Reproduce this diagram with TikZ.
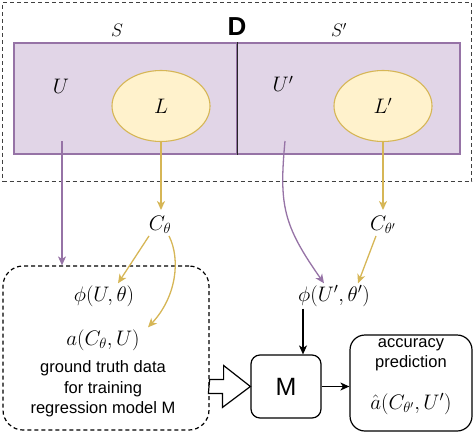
\documentclass[tikz,border=0pt]{standalone}
\usepackage{fix-cm}
\usepackage{amsmath}
\usepackage{fontspec}
\setsansfont{Liberation Sans}
\usetikzlibrary{arrows.meta,shapes.geometric,calc,positioning}
\definecolor{lilac}{HTML}{E1D5E7}
\definecolor{lilacline}{HTML}{9673A6}
\definecolor{cream}{HTML}{FFF2CC}
\definecolor{creamline}{HTML}{D6B656}

\begin{document}
\begin{tikzpicture}
    [x=1pt, y=-1pt, >={Stealth[length=9pt,width=8pt,inset=2.5pt]},
    set/.style={rectangle, draw=lilacline, fill=lilac, line width=1.1pt,
    minimum width=223pt, minimum height=111pt},
    sub/.style={ellipse, draw=creamline, fill=cream, line width=1.1pt,
    minimum width=98pt, minimum height=71pt, inner sep=0pt},
    maths/.style={font=\fontsize{21}{24}\selectfont, inner sep=2pt},
    words/.style={font=\fontsize{16.5}{20.5}\selectfont\sffamily, align=center, inner sep=1pt},
    block/.style={draw, rounded corners=9pt, line width=1.2pt},
    dbox/.style={draw, dash pattern=on 4pt off 3pt, line width=1.2pt},
    flow/.style={->, line width=1.3pt},
    uflow/.style={flow, draw=lilacline},
    lflow/.style={flow, draw=creamline}]

  % data set D with the two parts S and S'
  \node[dbox, draw=black!75, minimum width=469pt, minimum height=179pt] (Dbox) at (237,92) {};
  \node[font=\fontsize{26}{30}\selectfont\sffamily\bfseries] (Dlabel) at (237,27) {D};
  \node[set] (Sset) at (125.5,98.5) {};
  \node[set] (Spset) at (348.5,98.5) {};
  \draw[line width=1.3pt, black!85] (Sset.north east) -- (Sset.south east);
  \node[maths, font=\fontsize{18}{22}\selectfont] (Slabel) at (117,30) {$S$};
  \node[maths, font=\fontsize{18}{22}\selectfont] (Splabel) at (339,30) {$S'$};

  \node[maths] (U) at (61,86) {$U$};
  \node[maths] (Up) at (283,84) {$U'$};
  \coordinate (Ufoot) at (62,141);
  \coordinate (Upfoot) at (285,141);
  \node[sub, maths] (L) at (161,106) {$L$};
  \node[sub, maths] (Lp) at (383,106) {$L'$};

  % configurations
  \node[maths] (Ct) at (160,225) {$C_\theta$};
  \node[maths] (Ctp) at (383,225) {$C_{\theta'}$};

  % ground truth for training
  \node[block, dbox, rounded corners=20pt, minimum width=206pt, minimum height=164pt] (Tbox) at (106,348) {};
  \node[maths] (phi) at (104,296) {$\phi(U,\theta)$};
  \node[maths] (acu) at (103,340) {$a(C_\theta,U)$};
  \node[words] (gt) at (103,389) {ground truth data\\for training\\regression model M};

  \node[maths] (phip) at (334,296) {$\phi(U',\theta')$};

  % model and prediction
  \node[block, minimum width=70pt, minimum height=63pt, font=\fontsize{25}{30}\selectfont\sffamily] (M) at (286,386.5) {M};
  \node[block, rounded corners=15pt, minimum width=122pt, minimum height=96pt] (acc) at (411,383) {};
  \node[words] (acctext) at (411,355) {accuracy\\prediction};
  \node[maths] (ahat) at (411,404) {$\hat{a}(C_{\theta'},U')$};

  \draw[uflow] (Ufoot) -- (Ufoot |- Tbox.north);
  \draw[lflow, shorten >=4pt] (L.south) -- (L.south |- Ct.north);
  \draw[lflow, shorten >=4pt] (Lp.south) -- (Lp.south |- Ctp.north);
  \draw[lflow] ([xshift=-11pt]Ct.south) -- ([xshift=14pt]phi.north);
  \draw[lflow] ([xshift=9pt]Ct.south) .. controls +(12,24) and +(28,-30) .. ([xshift=45pt]acu.north);
  \draw[uflow] (Upfoot) .. controls (279,205) and (283,225) .. ([xshift=-10pt]phip.north);
  \draw[lflow] ([xshift=-7pt]Ctp.south) -- ([xshift=24pt]phip.north);
  \draw[flow] ([xshift=-31pt]phip.south) -- ([xshift=-31pt]phip.south |- M.north);
  \draw[flow] (M.east) -- (M.east -| acc.west);
  \draw[line width=1.2pt, fill=white] (Tbox.east |- M.west) ++(0,-7) -- ++(14,0) -- ++(0,-14)
    -- (M.west) -- ++(-28,21) -- ++(0,-14) -- ++(-14,0) -- cycle;

  \useasboundingbox (0,0) rectangle (474,447);
\end{tikzpicture}
\end{document}
